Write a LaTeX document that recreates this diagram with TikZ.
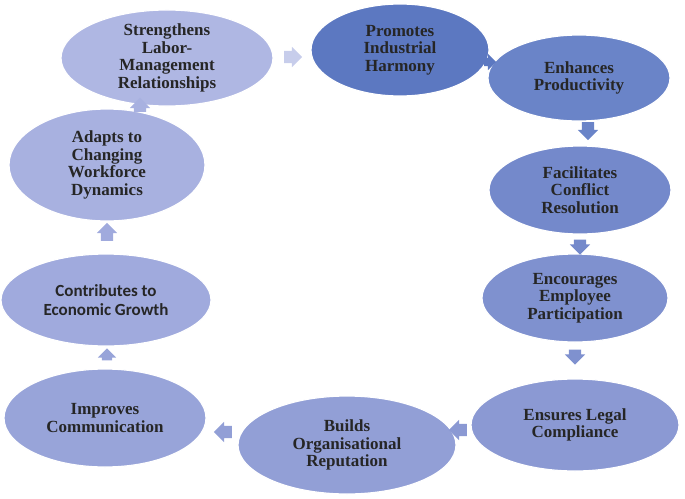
\documentclass[tikz,border=0pt]{standalone}
\usepackage{fontspec}
\setmainfont{Liberation Serif}
\newfontfamily\calfont{Carlito}
\usetikzlibrary{shapes.arrows,shapes.geometric}
\definecolor{ovA}{HTML}{AFB7E3}
\definecolor{ovB}{HTML}{5C78C1}
\definecolor{ovC}{HTML}{6A84C8}
\definecolor{ovD}{HTML}{7489CB}
\definecolor{ovE}{HTML}{7F91CF}
\definecolor{ovF}{HTML}{8B99D3}
\definecolor{ovG}{HTML}{929FD6}
\definecolor{ovH}{HTML}{98A4D9}
\definecolor{ovI}{HTML}{A0AADD}
\definecolor{ovJ}{HTML}{A8B1E0}
\tikzset{
  oval/.style={ellipse, draw=white, line width=1.2pt, inner sep=0pt,
    font=\bfseries\fontsize{17}{17.5}\selectfont, align=center, text=black!85},
  blk/.style={single arrow, draw=none, inner xsep=0pt, inner ysep=6pt, single arrow head extend=4pt,
    minimum height=18pt}
}
\begin{document}
\begin{tikzpicture}[x=1pt,y=-1pt]
\useasboundingbox (0,0) rectangle (685,498);
\node[oval, fill=ovA, minimum width=212pt, minimum height=86pt] (labor) at (167,58) {Strengthens\\Labor-\\Management\\Relationships};
\node[oval, fill=ovB, minimum width=178pt, minimum height=92pt] (harmony) at (400,50) {Promotes\\Industrial\\Harmony};
\node[oval, fill=ovC, minimum width=182pt, minimum height=86pt] (product) at (579,78) {Enhances\\Productivity};
\node[oval, fill=ovD, minimum width=182pt, minimum height=88pt] (conflict) at (580,190) {Facilitates\\Conflict\\Resolution};
\node[oval, fill=ovE, minimum width=186pt, minimum height=88pt] (particip) at (575,298) {Encourages\\Employee\\Participation};
\node[oval, fill=ovF, minimum width=208pt, minimum height=92pt] (legal) at (575,425) {Ensures Legal\\Compliance};
\node[oval, fill=ovG, minimum width=218pt, minimum height=98pt] (reput) at (347,445) {Builds\\Organisational\\Reputation};
\node[oval, fill=ovH, minimum width=202pt, minimum height=98pt] (commun) at (105,418) {Improves\\Communication};
\node[oval, fill=ovI, minimum width=210pt, minimum height=92pt, font=\calfont\bfseries\fontsize{17}{19}\selectfont] (growth) at (106,300) {Contributes to\\Economic Growth};
\node[oval, fill=ovJ, minimum width=196pt, minimum height=112pt] (adapt) at (107,165) {Adapts to\\Changing\\Workforce\\Dynamics};
% block arrows between the ovals
\node[blk, fill=ovA!70!white] (arA) at (290,57) {};
\node[blk, fill=ovB, inner ysep=4pt, minimum height=12pt] (arB) at (488,62) {};
\node[blk, fill=ovC, rotate=-90] (arC) at (588,128) {};
\node[blk, fill=ovD, rotate=-90, minimum height=15pt] (arD) at (580,244) {};
\node[blk, fill=ovE, rotate=-90, minimum height=15pt] (arE) at (575,354) {};
\node[blk, fill=ovF, rotate=180] (arF) at (461,430) {};
\node[blk, fill=ovG, rotate=180] (arG) at (226,432) {};
\node[blk, fill=ovH, rotate=90, inner ysep=5pt, minimum height=12pt] (arH) at (107,357) {};
\node[blk, fill=ovI, rotate=90] (arI) at (107,235) {};
\node[blk, fill=ovJ, rotate=90, minimum height=14pt] (arJ) at (140,108) {};
\end{tikzpicture}
\end{document}
